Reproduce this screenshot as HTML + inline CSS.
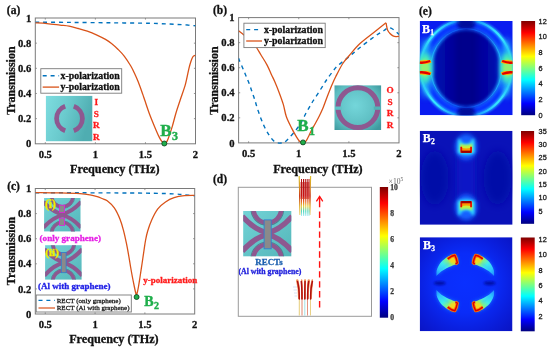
<!DOCTYPE html>
<html><head><meta charset="utf-8"><style>
html,body{margin:0;padding:0;background:#fff;}
svg{display:block;}
</style></head><body>
<svg width="550" height="349" viewBox="0 0 550 349">
<defs>
<clipPath id="clA"><rect x="35.3" y="17.0" width="160.2" height="127.80000000000001"/></clipPath>
<clipPath id="clB"><rect x="238.6" y="16.6" width="160.4" height="127.30000000000001"/></clipPath>
<clipPath id="clC"><rect x="35.3" y="187.5" width="159.39999999999998" height="127.5"/></clipPath>
<linearGradient id="tealA" x1="0" y1="0" x2="1" y2="0.3">
<stop offset="0" stop-color="#7edde0"/><stop offset="0.5" stop-color="#6acacd"/><stop offset="1" stop-color="#4fadb1"/></linearGradient>
<radialGradient id="tealB" cx="0.45" cy="0.45" r="0.7">
<stop offset="0" stop-color="#74d6da"/><stop offset="0.7" stop-color="#5cbcc0"/><stop offset="1" stop-color="#3e999e"/></radialGradient>
<linearGradient id="tealR" x1="0" y1="0" x2="1" y2="1">
<stop offset="0" stop-color="#72d3d6"/><stop offset="1" stop-color="#55b6ba"/></linearGradient>
<clipPath id="rclip"><rect x="0" y="0" width="48" height="45.4"/></clipPath>
<linearGradient id="jetV" x1="0" y1="1" x2="0" y2="0"><stop offset="0.0000" stop-color="#00007f"/><stop offset="0.0625" stop-color="#0000bf"/><stop offset="0.1250" stop-color="#0000ff"/><stop offset="0.1875" stop-color="#003fff"/><stop offset="0.2500" stop-color="#007fff"/><stop offset="0.3125" stop-color="#00bfff"/><stop offset="0.3750" stop-color="#00ffff"/><stop offset="0.4375" stop-color="#3fffbf"/><stop offset="0.5000" stop-color="#7fff7f"/><stop offset="0.5625" stop-color="#bfff3f"/><stop offset="0.6250" stop-color="#ffff00"/><stop offset="0.6875" stop-color="#ffbf00"/><stop offset="0.7500" stop-color="#ff7f00"/><stop offset="0.8125" stop-color="#ff3f00"/><stop offset="0.8750" stop-color="#ff0000"/><stop offset="0.9375" stop-color="#bf0000"/><stop offset="1.0000" stop-color="#7f0000"/></linearGradient>
<linearGradient id="fldT" x1="0" y1="176" x2="0" y2="217" gradientUnits="userSpaceOnUse">
<stop offset="0" stop-color="#e8c020"/><stop offset="0.15" stop-color="#c01010"/><stop offset="0.45" stop-color="#d01818"/>
<stop offset="0.65" stop-color="#f08020"/><stop offset="0.8" stop-color="#a0d060"/><stop offset="0.92" stop-color="#60e0e0"/><stop offset="1" stop-color="#c0f0ff"/></linearGradient>
<linearGradient id="fldB" x1="0" y1="279" x2="0" y2="316" gradientUnits="userSpaceOnUse">
<stop offset="0" stop-color="#b01010"/><stop offset="0.3" stop-color="#d02018"/><stop offset="0.45" stop-color="#e0a030"/>
<stop offset="0.62" stop-color="#60d0d0"/><stop offset="1" stop-color="#90dce0"/></linearGradient>
<linearGradient id="fldO" x1="0" y1="175" x2="0" y2="217" gradientUnits="userSpaceOnUse">
<stop offset="0" stop-color="#e0c830"/><stop offset="0.3" stop-color="#d89020"/><stop offset="0.5" stop-color="#c83010"/><stop offset="0.75" stop-color="#e0b030"/><stop offset="1" stop-color="#f0e0a0"/></linearGradient>
<linearGradient id="fldI" x1="0" y1="178" x2="0" y2="217" gradientUnits="userSpaceOnUse">
<stop offset="0" stop-color="#b01010"/><stop offset="0.45" stop-color="#c81010"/><stop offset="0.6" stop-color="#e86020"/><stop offset="0.72" stop-color="#e8d040"/><stop offset="0.85" stop-color="#50d8c0"/><stop offset="1" stop-color="#c8f0ff"/></linearGradient>
<filter id="bl05" x="-20%" y="-20%" width="140%" height="140%"><feGaussianBlur stdDeviation="0.5"/></filter>
<filter id="bl07" x="-30%" y="-30%" width="160%" height="160%"><feGaussianBlur stdDeviation="0.7"/></filter>
<filter id="bl15" x="-40%" y="-40%" width="180%" height="180%"><feGaussianBlur stdDeviation="1.5"/></filter>
<filter id="bl1" x="-30%" y="-30%" width="160%" height="160%"><feGaussianBlur stdDeviation="1"/></filter>
<filter id="bl2" x="-50%" y="-50%" width="200%" height="200%"><feGaussianBlur stdDeviation="2"/></filter>
<filter id="bl4" x="-50%" y="-50%" width="200%" height="200%"><feGaussianBlur stdDeviation="4"/></filter>
<filter id="bl3" x="-50%" y="-50%" width="200%" height="200%"><feGaussianBlur stdDeviation="3"/></filter>
<clipPath id="clE1"><rect x="419.7" y="21.0" width="93.0" height="94.2"/></clipPath>
<linearGradient id="e1in" x1="430.2" y1="0" x2="502.2" y2="0" gradientUnits="userSpaceOnUse">
<stop offset="0" stop-color="#000cb8"/><stop offset="0.3" stop-color="#00049c"/><stop offset="0.5" stop-color="#00007e"/><stop offset="0.7" stop-color="#00049c"/><stop offset="1" stop-color="#000cb8"/></linearGradient>
<linearGradient id="e1ro" x1="419.7" y1="0" x2="512.7" y2="0" gradientUnits="userSpaceOnUse">
<stop offset="0" stop-color="#40f4ff"/><stop offset="0.18" stop-color="#34e4ff"/><stop offset="0.34" stop-color="#20a8ff"/><stop offset="0.5" stop-color="#1880ff"/><stop offset="0.66" stop-color="#20a8ff"/><stop offset="0.82" stop-color="#34e4ff"/><stop offset="1" stop-color="#40f4ff"/></linearGradient>
<linearGradient id="e1ri" x1="419.7" y1="0" x2="512.7" y2="0" gradientUnits="userSpaceOnUse">
<stop offset="0" stop-color="#30e0ff"/><stop offset="0.15" stop-color="#24c4ff"/><stop offset="0.32" stop-color="#1470ff"/><stop offset="0.5" stop-color="#1060ff"/><stop offset="0.68" stop-color="#1470ff"/><stop offset="0.85" stop-color="#24c4ff"/><stop offset="1" stop-color="#30e0ff"/></linearGradient>
<clipPath id="clE2"><rect x="419.7" y="130.8" width="92.9" height="94.0"/></clipPath>
<radialGradient id="e3bg" cx="465.25" cy="283" r="66" gradientUnits="userSpaceOnUse">
<stop offset="0" stop-color="#0a30ff"/><stop offset="0.45" stop-color="#0a2cf8"/><stop offset="0.7" stop-color="#0a20e0"/><stop offset="1" stop-color="#0a14c4"/></radialGradient>
<clipPath id="clE3"><rect x="419.7" y="237.2" width="92.8" height="94.1"/></clipPath>
<linearGradient id="cr1" x1="437.25" y1="276.00" x2="456.25" y2="258.00" gradientUnits="userSpaceOnUse">
<stop offset="0" stop-color="#2088ff"/><stop offset="0.22" stop-color="#30c8ff"/><stop offset="0.48" stop-color="#40ecec"/><stop offset="0.72" stop-color="#8cf078"/><stop offset="0.88" stop-color="#e0e830"/><stop offset="1" stop-color="#ffb000"/></linearGradient>
<linearGradient id="cr2" x1="493.25" y1="276.00" x2="474.25" y2="258.00" gradientUnits="userSpaceOnUse">
<stop offset="0" stop-color="#2088ff"/><stop offset="0.22" stop-color="#30c8ff"/><stop offset="0.48" stop-color="#40ecec"/><stop offset="0.72" stop-color="#8cf078"/><stop offset="0.88" stop-color="#e0e830"/><stop offset="1" stop-color="#ffb000"/></linearGradient>
<linearGradient id="cr3" x1="437.25" y1="290.00" x2="456.25" y2="308.00" gradientUnits="userSpaceOnUse">
<stop offset="0" stop-color="#2088ff"/><stop offset="0.22" stop-color="#30c8ff"/><stop offset="0.48" stop-color="#40ecec"/><stop offset="0.72" stop-color="#8cf078"/><stop offset="0.88" stop-color="#e0e830"/><stop offset="1" stop-color="#ffb000"/></linearGradient>
<linearGradient id="cr4" x1="493.25" y1="290.00" x2="474.25" y2="308.00" gradientUnits="userSpaceOnUse">
<stop offset="0" stop-color="#2088ff"/><stop offset="0.22" stop-color="#30c8ff"/><stop offset="0.48" stop-color="#40ecec"/><stop offset="0.72" stop-color="#8cf078"/><stop offset="0.88" stop-color="#e0e830"/><stop offset="1" stop-color="#ffb000"/></linearGradient>
</defs>
<rect x="0" y="0" width="550" height="349" fill="#fff"/>
<line x1="45.31" y1="143.80" x2="45.31" y2="142.20" stroke="#7a7a7a" stroke-width="0.8"/>
<line x1="45.31" y1="18.00" x2="45.31" y2="19.60" stroke="#7a7a7a" stroke-width="0.8"/>
<line x1="95.37" y1="143.80" x2="95.37" y2="142.20" stroke="#7a7a7a" stroke-width="0.8"/>
<line x1="95.37" y1="18.00" x2="95.37" y2="19.60" stroke="#7a7a7a" stroke-width="0.8"/>
<line x1="145.44" y1="143.80" x2="145.44" y2="142.20" stroke="#7a7a7a" stroke-width="0.8"/>
<line x1="145.44" y1="18.00" x2="145.44" y2="19.60" stroke="#7a7a7a" stroke-width="0.8"/>
<line x1="35.30" y1="118.64" x2="36.90" y2="118.64" stroke="#7a7a7a" stroke-width="0.8"/>
<line x1="195.50" y1="118.64" x2="193.90" y2="118.64" stroke="#7a7a7a" stroke-width="0.8"/>
<line x1="35.30" y1="93.48" x2="36.90" y2="93.48" stroke="#7a7a7a" stroke-width="0.8"/>
<line x1="195.50" y1="93.48" x2="193.90" y2="93.48" stroke="#7a7a7a" stroke-width="0.8"/>
<line x1="35.30" y1="68.32" x2="36.90" y2="68.32" stroke="#7a7a7a" stroke-width="0.8"/>
<line x1="195.50" y1="68.32" x2="193.90" y2="68.32" stroke="#7a7a7a" stroke-width="0.8"/>
<line x1="35.30" y1="43.16" x2="36.90" y2="43.16" stroke="#7a7a7a" stroke-width="0.8"/>
<line x1="195.50" y1="43.16" x2="193.90" y2="43.16" stroke="#7a7a7a" stroke-width="0.8"/>
<rect x="35.30" y="18.00" width="160.20" height="125.80" fill="none" stroke="#7a7a7a" stroke-width="1"/>
<line x1="248.62" y1="142.90" x2="248.62" y2="141.30" stroke="#7a7a7a" stroke-width="0.8"/>
<line x1="248.62" y1="17.60" x2="248.62" y2="19.20" stroke="#7a7a7a" stroke-width="0.8"/>
<line x1="298.75" y1="142.90" x2="298.75" y2="141.30" stroke="#7a7a7a" stroke-width="0.8"/>
<line x1="298.75" y1="17.60" x2="298.75" y2="19.20" stroke="#7a7a7a" stroke-width="0.8"/>
<line x1="348.88" y1="142.90" x2="348.88" y2="141.30" stroke="#7a7a7a" stroke-width="0.8"/>
<line x1="348.88" y1="17.60" x2="348.88" y2="19.20" stroke="#7a7a7a" stroke-width="0.8"/>
<line x1="238.60" y1="117.84" x2="240.20" y2="117.84" stroke="#7a7a7a" stroke-width="0.8"/>
<line x1="399.00" y1="117.84" x2="397.40" y2="117.84" stroke="#7a7a7a" stroke-width="0.8"/>
<line x1="238.60" y1="92.78" x2="240.20" y2="92.78" stroke="#7a7a7a" stroke-width="0.8"/>
<line x1="399.00" y1="92.78" x2="397.40" y2="92.78" stroke="#7a7a7a" stroke-width="0.8"/>
<line x1="238.60" y1="67.72" x2="240.20" y2="67.72" stroke="#7a7a7a" stroke-width="0.8"/>
<line x1="399.00" y1="67.72" x2="397.40" y2="67.72" stroke="#7a7a7a" stroke-width="0.8"/>
<line x1="238.60" y1="42.66" x2="240.20" y2="42.66" stroke="#7a7a7a" stroke-width="0.8"/>
<line x1="399.00" y1="42.66" x2="397.40" y2="42.66" stroke="#7a7a7a" stroke-width="0.8"/>
<rect x="238.60" y="17.60" width="160.40" height="125.30" fill="none" stroke="#7a7a7a" stroke-width="1"/>
<line x1="45.26" y1="314.00" x2="45.26" y2="312.40" stroke="#7a7a7a" stroke-width="0.8"/>
<line x1="45.26" y1="188.50" x2="45.26" y2="190.10" stroke="#7a7a7a" stroke-width="0.8"/>
<line x1="95.07" y1="314.00" x2="95.07" y2="312.40" stroke="#7a7a7a" stroke-width="0.8"/>
<line x1="95.07" y1="188.50" x2="95.07" y2="190.10" stroke="#7a7a7a" stroke-width="0.8"/>
<line x1="144.89" y1="314.00" x2="144.89" y2="312.40" stroke="#7a7a7a" stroke-width="0.8"/>
<line x1="144.89" y1="188.50" x2="144.89" y2="190.10" stroke="#7a7a7a" stroke-width="0.8"/>
<line x1="35.30" y1="288.90" x2="36.90" y2="288.90" stroke="#7a7a7a" stroke-width="0.8"/>
<line x1="194.70" y1="288.90" x2="193.10" y2="288.90" stroke="#7a7a7a" stroke-width="0.8"/>
<line x1="35.30" y1="263.80" x2="36.90" y2="263.80" stroke="#7a7a7a" stroke-width="0.8"/>
<line x1="194.70" y1="263.80" x2="193.10" y2="263.80" stroke="#7a7a7a" stroke-width="0.8"/>
<line x1="35.30" y1="238.70" x2="36.90" y2="238.70" stroke="#7a7a7a" stroke-width="0.8"/>
<line x1="194.70" y1="238.70" x2="193.10" y2="238.70" stroke="#7a7a7a" stroke-width="0.8"/>
<line x1="35.30" y1="213.60" x2="36.90" y2="213.60" stroke="#7a7a7a" stroke-width="0.8"/>
<line x1="194.70" y1="213.60" x2="193.10" y2="213.60" stroke="#7a7a7a" stroke-width="0.8"/>
<rect x="35.30" y="188.50" width="159.40" height="125.50" fill="none" stroke="#7a7a7a" stroke-width="1"/>
<path d="M35.30,22.20 C41.08,22.23 57.55,22.30 70.00,22.40 C82.45,22.50 96.67,22.65 110.00,22.80 C123.33,22.95 139.17,23.05 150.00,23.30 C160.83,23.55 168.67,24.00 175.00,24.30 C181.33,24.60 184.58,24.85 188.00,25.10 C191.42,25.35 194.25,25.68 195.50,25.80" fill="none" stroke="#0072BD" stroke-width="1.4" stroke-dasharray="4,3.9" stroke-linejoin="round" clip-path="url(#clA)"/>
<path d="M35.30,22.80 C37.25,22.93 42.88,23.22 47.00,23.60 C51.12,23.98 56.32,24.67 60.00,25.10 C63.68,25.53 66.07,25.63 69.10,26.20 C72.13,26.77 75.17,27.67 78.20,28.50 C81.23,29.33 84.27,30.15 87.30,31.20 C90.33,32.25 93.37,33.43 96.40,34.80 C99.43,36.17 102.98,37.97 105.50,39.40 C108.02,40.83 109.43,41.77 111.50,43.40 C113.57,45.03 115.75,47.05 117.90,49.20 C120.05,51.35 122.25,53.50 124.40,56.30 C126.55,59.10 129.08,63.10 130.80,66.00 C132.52,68.90 133.47,71.07 134.70,73.70 C135.93,76.33 136.85,78.35 138.20,81.80 C139.55,85.25 141.72,91.37 142.80,94.40 C143.88,97.43 143.63,96.87 144.70,100.00 C145.77,103.13 147.57,108.80 149.20,113.20 C150.83,117.60 152.85,122.45 154.50,126.40 C156.15,130.35 157.88,134.40 159.10,136.90 C160.32,139.40 160.93,140.33 161.80,141.40 C162.67,142.47 163.50,143.20 164.30,143.30 C165.10,143.40 165.88,142.97 166.60,142.00 C167.32,141.03 167.65,140.10 168.60,137.50 C169.55,134.90 171.08,130.45 172.30,126.40 C173.52,122.35 174.58,117.60 175.90,113.20 C177.22,108.80 178.62,104.80 180.20,100.00 C181.78,95.20 183.95,89.63 185.40,84.40 C186.85,79.17 187.97,72.47 188.90,68.60 C189.83,64.73 190.38,63.08 191.00,61.20 C191.62,59.32 192.10,58.22 192.60,57.30 C193.10,56.38 193.52,56.05 194.00,55.70 C194.48,55.35 195.25,55.28 195.50,55.20" fill="none" stroke="#D95319" stroke-width="1.3" stroke-linejoin="round" clip-path="url(#clA)"/>
<path d="M238.60,58.20 C238.72,58.53 238.53,58.37 239.30,60.20 C240.07,62.03 242.02,66.42 243.20,69.20 C244.38,71.98 245.33,74.32 246.40,76.90 C247.47,79.48 248.63,82.12 249.60,84.70 C250.57,87.28 251.33,89.88 252.20,92.40 C253.07,94.92 253.97,97.22 254.80,99.80 C255.63,102.38 256.22,104.88 257.20,107.90 C258.18,110.92 259.52,114.80 260.70,117.90 C261.88,121.00 262.98,123.75 264.30,126.50 C265.62,129.25 267.05,132.02 268.60,134.40 C270.15,136.78 272.03,139.38 273.60,140.80 C275.17,142.22 276.68,142.53 278.00,142.90 C279.32,143.27 280.43,143.10 281.50,143.00 C282.57,142.90 283.22,143.07 284.40,142.30 C285.58,141.53 286.85,140.22 288.60,138.40 C290.35,136.58 293.00,133.72 294.90,131.40 C296.80,129.08 298.60,126.63 300.00,124.50 C301.40,122.37 302.28,120.55 303.30,118.60 C304.32,116.65 305.05,114.77 306.10,112.80 C307.15,110.83 308.45,108.77 309.60,106.80 C310.75,104.83 311.67,103.10 313.00,101.00 C314.33,98.90 315.88,96.87 317.60,94.20 C319.32,91.53 321.68,87.57 323.30,85.00 C324.92,82.43 325.85,80.88 327.30,78.80 C328.75,76.72 330.28,74.67 332.00,72.50 C333.72,70.33 334.80,68.40 337.60,65.80 C340.40,63.20 345.07,59.95 348.80,56.90 C352.53,53.85 355.47,51.07 360.00,47.50 C364.53,43.93 372.00,38.33 376.00,35.50 C380.00,32.67 382.00,31.82 384.00,30.50 C386.00,29.18 386.83,27.98 388.00,27.60 C389.17,27.22 390.00,27.80 391.00,28.20 C392.00,28.60 393.00,29.28 394.00,30.00 C395.00,30.72 396.17,31.75 397.00,32.50 C397.83,33.25 398.67,34.17 399.00,34.50" fill="none" stroke="#0072BD" stroke-width="1.4" stroke-dasharray="4,3.9" stroke-linejoin="round" clip-path="url(#clB)"/>
<path d="M238.60,30.80 C239.40,31.42 241.67,33.00 243.40,34.50 C245.13,36.00 247.40,38.30 249.00,39.80 C250.60,41.30 251.75,42.22 253.00,43.50 C254.25,44.78 255.17,45.58 256.50,47.50 C257.83,49.42 259.23,52.07 261.00,55.00 C262.77,57.93 265.33,61.77 267.10,65.10 C268.87,68.43 270.33,72.27 271.60,75.00 C272.87,77.73 273.42,78.52 274.70,81.50 C275.98,84.48 277.87,89.08 279.30,92.90 C280.73,96.72 282.13,100.47 283.30,104.40 C284.47,108.33 284.93,112.58 286.30,116.50 C287.67,120.42 289.78,124.47 291.50,127.90 C293.22,131.33 295.27,134.88 296.60,137.10 C297.93,139.32 298.48,140.32 299.50,141.20 C300.52,142.08 301.65,142.37 302.70,142.40 C303.75,142.43 304.90,142.25 305.80,141.40 C306.70,140.55 307.13,139.20 308.10,137.30 C309.07,135.40 310.40,132.30 311.60,130.00 C312.80,127.70 314.02,125.83 315.30,123.50 C316.58,121.17 317.97,118.72 319.30,116.00 C320.63,113.28 321.97,110.45 323.30,107.20 C324.63,103.95 325.87,100.20 327.30,96.50 C328.73,92.80 330.48,88.33 331.90,85.00 C333.32,81.67 333.98,80.08 335.80,76.50 C337.62,72.92 340.55,67.00 342.80,63.50 C345.05,60.00 346.43,58.82 349.30,55.50 C352.17,52.18 355.55,47.72 360.00,43.60 C364.45,39.48 371.67,34.27 376.00,30.80 C380.33,27.33 384.33,24.13 386.00,22.80" fill="none" stroke="#D95319" stroke-width="1.3" stroke-linejoin="round" clip-path="url(#clB)"/>
<path d="M386.00,22.80 C386.13,23.50 386.50,25.72 386.80,27.00 C387.10,28.28 387.27,29.42 387.80,30.50 C388.33,31.58 389.13,32.62 390.00,33.50 C390.87,34.38 392.00,35.28 393.00,35.80 C394.00,36.32 395.00,36.50 396.00,36.60 C397.00,36.70 398.50,36.43 399.00,36.40" fill="none" stroke="#D95319" stroke-width="1.3" stroke-linejoin="round" clip-path="url(#clB)"/>
<path d="M35.30,192.70 C42.75,192.72 64.22,192.75 80.00,192.80 C95.78,192.85 116.67,192.90 130.00,193.00 C143.33,193.10 152.50,193.23 160.00,193.40 C167.50,193.57 170.83,193.77 175.00,194.00 C179.17,194.23 181.72,194.50 185.00,194.80 C188.28,195.10 193.08,195.63 194.70,195.80" fill="none" stroke="#0072BD" stroke-width="1.4" stroke-dasharray="4,3.9" stroke-linejoin="round" clip-path="url(#clC)"/>
<path d="M35.30,192.60 C39.42,192.65 52.55,192.73 60.00,192.90 C67.45,193.07 75.00,193.28 80.00,193.60 C85.00,193.92 87.13,194.30 90.00,194.80 C92.87,195.30 95.20,195.98 97.20,196.60 C99.20,197.22 100.33,197.80 102.00,198.50 C103.67,199.20 105.15,199.23 107.20,200.80 C109.25,202.37 112.15,204.80 114.30,207.90 C116.45,211.00 118.55,215.58 120.10,219.40 C121.65,223.22 122.53,226.75 123.60,230.80 C124.67,234.85 125.67,239.67 126.50,243.70 C127.33,247.73 127.92,251.12 128.60,255.00 C129.28,258.88 129.98,263.42 130.60,267.00 C131.22,270.58 131.67,273.17 132.30,276.50 C132.93,279.83 133.85,284.33 134.40,287.00 C134.95,289.67 135.27,291.17 135.60,292.50 C135.93,293.83 136.12,295.00 136.40,295.00 C136.68,295.00 136.93,294.00 137.30,292.50 C137.67,291.00 138.13,288.67 138.60,286.00 C139.07,283.33 139.53,280.17 140.10,276.50 C140.67,272.83 141.37,268.25 142.00,264.00 C142.63,259.75 143.30,255.00 143.90,251.00 C144.50,247.00 144.97,243.33 145.60,240.00 C146.23,236.67 146.68,234.33 147.70,231.00 C148.72,227.67 150.02,223.68 151.70,220.00 C153.38,216.32 155.50,211.90 157.80,208.90 C160.10,205.90 162.78,203.87 165.50,202.00 C168.22,200.13 170.95,198.75 174.10,197.70 C177.25,196.65 180.97,196.08 184.40,195.70 C187.83,195.32 192.98,195.45 194.70,195.40" fill="none" stroke="#D95319" stroke-width="1.3" stroke-linejoin="round" clip-path="url(#clC)"/>
<text x="45.31" y="157.60" font-family="'Liberation Serif', 'Times New Roman', serif" font-size="10.6" font-weight="bold" fill="#111" stroke="#111" stroke-width="0.3" text-anchor="middle" >0.5</text>
<text x="95.37" y="157.60" font-family="'Liberation Serif', 'Times New Roman', serif" font-size="10.6" font-weight="bold" fill="#111" stroke="#111" stroke-width="0.3" text-anchor="middle" >1</text>
<text x="145.44" y="157.60" font-family="'Liberation Serif', 'Times New Roman', serif" font-size="10.6" font-weight="bold" fill="#111" stroke="#111" stroke-width="0.3" text-anchor="middle" >1.5</text>
<text x="195.50" y="157.60" font-family="'Liberation Serif', 'Times New Roman', serif" font-size="10.6" font-weight="bold" fill="#111" stroke="#111" stroke-width="0.3" text-anchor="middle" >2</text>
<text x="31.30" y="147.40" font-family="'Liberation Serif', 'Times New Roman', serif" font-size="10.6" font-weight="bold" fill="#111" stroke="#111" stroke-width="0.3" text-anchor="end" >0</text>
<text x="31.30" y="122.24" font-family="'Liberation Serif', 'Times New Roman', serif" font-size="10.6" font-weight="bold" fill="#111" stroke="#111" stroke-width="0.3" text-anchor="end" >0.2</text>
<text x="31.30" y="97.08" font-family="'Liberation Serif', 'Times New Roman', serif" font-size="10.6" font-weight="bold" fill="#111" stroke="#111" stroke-width="0.3" text-anchor="end" >0.4</text>
<text x="31.30" y="71.92" font-family="'Liberation Serif', 'Times New Roman', serif" font-size="10.6" font-weight="bold" fill="#111" stroke="#111" stroke-width="0.3" text-anchor="end" >0.6</text>
<text x="31.30" y="46.76" font-family="'Liberation Serif', 'Times New Roman', serif" font-size="10.6" font-weight="bold" fill="#111" stroke="#111" stroke-width="0.3" text-anchor="end" >0.8</text>
<text x="31.30" y="21.60" font-family="'Liberation Serif', 'Times New Roman', serif" font-size="10.6" font-weight="bold" fill="#111" stroke="#111" stroke-width="0.3" text-anchor="end" >1</text>
<text x="248.62" y="156.70" font-family="'Liberation Serif', 'Times New Roman', serif" font-size="10.6" font-weight="bold" fill="#111" stroke="#111" stroke-width="0.3" text-anchor="middle" >0.5</text>
<text x="298.75" y="156.70" font-family="'Liberation Serif', 'Times New Roman', serif" font-size="10.6" font-weight="bold" fill="#111" stroke="#111" stroke-width="0.3" text-anchor="middle" >1</text>
<text x="348.88" y="156.70" font-family="'Liberation Serif', 'Times New Roman', serif" font-size="10.6" font-weight="bold" fill="#111" stroke="#111" stroke-width="0.3" text-anchor="middle" >1.5</text>
<text x="399.00" y="156.70" font-family="'Liberation Serif', 'Times New Roman', serif" font-size="10.6" font-weight="bold" fill="#111" stroke="#111" stroke-width="0.3" text-anchor="middle" >2</text>
<text x="234.60" y="146.50" font-family="'Liberation Serif', 'Times New Roman', serif" font-size="10.6" font-weight="bold" fill="#111" stroke="#111" stroke-width="0.3" text-anchor="end" >0</text>
<text x="234.60" y="121.44" font-family="'Liberation Serif', 'Times New Roman', serif" font-size="10.6" font-weight="bold" fill="#111" stroke="#111" stroke-width="0.3" text-anchor="end" >0.2</text>
<text x="234.60" y="96.38" font-family="'Liberation Serif', 'Times New Roman', serif" font-size="10.6" font-weight="bold" fill="#111" stroke="#111" stroke-width="0.3" text-anchor="end" >0.4</text>
<text x="234.60" y="71.32" font-family="'Liberation Serif', 'Times New Roman', serif" font-size="10.6" font-weight="bold" fill="#111" stroke="#111" stroke-width="0.3" text-anchor="end" >0.6</text>
<text x="234.60" y="46.26" font-family="'Liberation Serif', 'Times New Roman', serif" font-size="10.6" font-weight="bold" fill="#111" stroke="#111" stroke-width="0.3" text-anchor="end" >0.8</text>
<text x="234.60" y="21.20" font-family="'Liberation Serif', 'Times New Roman', serif" font-size="10.6" font-weight="bold" fill="#111" stroke="#111" stroke-width="0.3" text-anchor="end" >1</text>
<text x="45.26" y="327.80" font-family="'Liberation Serif', 'Times New Roman', serif" font-size="10.6" font-weight="bold" fill="#111" stroke="#111" stroke-width="0.3" text-anchor="middle" >0.5</text>
<text x="95.07" y="327.80" font-family="'Liberation Serif', 'Times New Roman', serif" font-size="10.6" font-weight="bold" fill="#111" stroke="#111" stroke-width="0.3" text-anchor="middle" >1</text>
<text x="144.89" y="327.80" font-family="'Liberation Serif', 'Times New Roman', serif" font-size="10.6" font-weight="bold" fill="#111" stroke="#111" stroke-width="0.3" text-anchor="middle" >1.5</text>
<text x="194.70" y="327.80" font-family="'Liberation Serif', 'Times New Roman', serif" font-size="10.6" font-weight="bold" fill="#111" stroke="#111" stroke-width="0.3" text-anchor="middle" >2</text>
<text x="31.30" y="317.60" font-family="'Liberation Serif', 'Times New Roman', serif" font-size="10.6" font-weight="bold" fill="#111" stroke="#111" stroke-width="0.3" text-anchor="end" >0</text>
<text x="31.30" y="292.50" font-family="'Liberation Serif', 'Times New Roman', serif" font-size="10.6" font-weight="bold" fill="#111" stroke="#111" stroke-width="0.3" text-anchor="end" >0.2</text>
<text x="31.30" y="267.40" font-family="'Liberation Serif', 'Times New Roman', serif" font-size="10.6" font-weight="bold" fill="#111" stroke="#111" stroke-width="0.3" text-anchor="end" >0.4</text>
<text x="31.30" y="242.30" font-family="'Liberation Serif', 'Times New Roman', serif" font-size="10.6" font-weight="bold" fill="#111" stroke="#111" stroke-width="0.3" text-anchor="end" >0.6</text>
<text x="31.30" y="217.20" font-family="'Liberation Serif', 'Times New Roman', serif" font-size="10.6" font-weight="bold" fill="#111" stroke="#111" stroke-width="0.3" text-anchor="end" >0.8</text>
<text x="31.30" y="192.10" font-family="'Liberation Serif', 'Times New Roman', serif" font-size="10.6" font-weight="bold" fill="#111" stroke="#111" stroke-width="0.3" text-anchor="end" >1</text>
<text x="0" y="0" transform="translate(14.80,80.60) rotate(-90)" font-family="'Liberation Serif', 'Times New Roman', serif" font-size="12" font-weight="bold" fill="#111" stroke="#111" stroke-width="0.3" text-anchor="middle">Transmission</text>
<text x="0" y="0" transform="translate(217.50,80.60) rotate(-90)" font-family="'Liberation Serif', 'Times New Roman', serif" font-size="12" font-weight="bold" fill="#111" stroke="#111" stroke-width="0.3" text-anchor="middle">Transmission</text>
<text x="0" y="0" transform="translate(14.80,251.00) rotate(-90)" font-family="'Liberation Serif', 'Times New Roman', serif" font-size="12" font-weight="bold" fill="#111" stroke="#111" stroke-width="0.3" text-anchor="middle">Transmission</text>
<text x="114.80" y="172.60" font-family="'Liberation Serif', 'Times New Roman', serif" font-size="12.2" font-weight="bold" fill="#111" stroke="#111" stroke-width="0.3" text-anchor="middle" >Frequency (THz)</text>
<text x="317.90" y="172.60" font-family="'Liberation Serif', 'Times New Roman', serif" font-size="12.2" font-weight="bold" fill="#111" stroke="#111" stroke-width="0.3" text-anchor="middle" >Frequency (THz)</text>
<text x="113.90" y="343.40" font-family="'Liberation Serif', 'Times New Roman', serif" font-size="12.2" font-weight="bold" fill="#111" stroke="#111" stroke-width="0.3" text-anchor="middle" >Frequency (THz)</text>
<text x="6.80" y="14.20" font-family="'Liberation Serif', 'Times New Roman', serif" font-size="11.5" font-weight="bold" fill="#111" stroke="#111" stroke-width="0.3" text-anchor="start" >(a)</text>
<text x="213.00" y="14.20" font-family="'Liberation Serif', 'Times New Roman', serif" font-size="11.5" font-weight="bold" fill="#111" stroke="#111" stroke-width="0.3" text-anchor="start" >(b)</text>
<text x="7.20" y="190.00" font-family="'Liberation Serif', 'Times New Roman', serif" font-size="11.5" font-weight="bold" fill="#111" stroke="#111" stroke-width="0.3" text-anchor="start" >(c)</text>
<text x="213.00" y="183.30" font-family="'Liberation Serif', 'Times New Roman', serif" font-size="11.5" font-weight="bold" fill="#111" stroke="#111" stroke-width="0.3" text-anchor="start" >(d)</text>
<text x="419.00" y="14.50" font-family="'Liberation Serif', 'Times New Roman', serif" font-size="11.5" font-weight="bold" fill="#111" stroke="#111" stroke-width="0.3" text-anchor="start" >(e)</text>
<rect x="40.80" y="68.70" width="80.90" height="24.50" fill="#fff" stroke="#7a7a7a" stroke-width="0.9"/>
<line x1="42.7" y1="75.8" x2="59.1" y2="75.8" stroke="#0072BD" stroke-width="1.4" stroke-dasharray="4,3.9"/>
<line x1="42.7" y1="87.1" x2="59.1" y2="87.1" stroke="#D95319" stroke-width="1.3"/>
<text x="60.60" y="79.30" font-family="'Liberation Serif', 'Times New Roman', serif" font-size="9.85" font-weight="bold" fill="#111" stroke="#111" stroke-width="0.3" text-anchor="start" >x-polarization</text>
<text x="60.60" y="89.60" font-family="'Liberation Serif', 'Times New Roman', serif" font-size="9.85" font-weight="bold" fill="#111" stroke="#111" stroke-width="0.3" text-anchor="start" >y-polarization</text>
<rect x="243.90" y="23.20" width="81.30" height="24.40" fill="#fff" stroke="#7a7a7a" stroke-width="0.9"/>
<line x1="246.2" y1="29.6" x2="262.0" y2="29.6" stroke="#0072BD" stroke-width="1.4" stroke-dasharray="4,3.9"/>
<line x1="246.2" y1="41.0" x2="262.0" y2="41.0" stroke="#D95319" stroke-width="1.3"/>
<text x="263.90" y="33.20" font-family="'Liberation Serif', 'Times New Roman', serif" font-size="9.85" font-weight="bold" fill="#111" stroke="#111" stroke-width="0.3" text-anchor="start" >x-polarization</text>
<text x="263.90" y="44.00" font-family="'Liberation Serif', 'Times New Roman', serif" font-size="9.85" font-weight="bold" fill="#111" stroke="#111" stroke-width="0.3" text-anchor="start" >y-polarization</text>
<rect x="36.20" y="295.00" width="95.10" height="17.00" fill="#fff" stroke="#7a7a7a" stroke-width="0.9"/>
<line x1="38.5" y1="300.3" x2="55.0" y2="300.3" stroke="#0072BD" stroke-width="1.3" stroke-dasharray="4,3.9"/>
<line x1="38.5" y1="308.0" x2="55.0" y2="308.0" stroke="#D95319" stroke-width="1.2"/>
<text x="56.70" y="302.70" font-family="'Liberation Serif', 'Times New Roman', serif" font-size="7.0" font-weight="normal" fill="#222" stroke="#222" stroke-width="0.3" text-anchor="start" >RECT (only graphene)</text>
<text x="56.70" y="310.40" font-family="'Liberation Serif', 'Times New Roman', serif" font-size="7.0" font-weight="normal" fill="#222" stroke="#222" stroke-width="0.3" text-anchor="start" >RECT (Al with graphene)</text>
<circle cx="164.30" cy="143.50" r="2.5" fill="#1fae4b" stroke="#0b3d1a" stroke-width="0.8"/>
<circle cx="303.00" cy="142.40" r="2.5" fill="#1fae4b" stroke="#0b3d1a" stroke-width="0.8"/>
<circle cx="136.60" cy="297.00" r="2.5" fill="#1fae4b" stroke="#0b3d1a" stroke-width="0.8"/>
<text x="160.20" y="136.40" font-family="'Liberation Serif', 'Times New Roman', serif" font-size="17" font-weight="bold" fill="#1fae4b" stroke="#1fae4b" stroke-width="0.4">B<tspan font-size="12" dx="0.5" dy="4">3</tspan></text>
<text x="297.20" y="130.80" font-family="'Liberation Serif', 'Times New Roman', serif" font-size="17" font-weight="bold" fill="#1fae4b" stroke="#1fae4b" stroke-width="0.4">B<tspan font-size="12" dx="0.5" dy="4">1</tspan></text>
<text x="144.30" y="306.00" font-family="'Liberation Serif', 'Times New Roman', serif" font-size="14" font-weight="bold" fill="#1fae4b" stroke="#1fae4b" stroke-width="0.4">B<tspan font-size="10" dx="0.3" dy="3.2">2</tspan></text>
<text x="143.20" y="283.40" font-family="'Liberation Serif', 'Times New Roman', serif" font-size="9.0" font-weight="bold" fill="#ff1a1a" stroke="#ff1a1a" stroke-width="0.3" text-anchor="start" >y-polarization</text>
<text x="96.30" y="105.00" font-family="'Liberation Serif', 'Times New Roman', serif" font-size="9.2" font-weight="bold" fill="#ff1a1a" stroke="#ff1a1a" stroke-width="0.3" text-anchor="middle" >I</text>
<text x="96.30" y="116.63" font-family="'Liberation Serif', 'Times New Roman', serif" font-size="9.2" font-weight="bold" fill="#ff1a1a" stroke="#ff1a1a" stroke-width="0.3" text-anchor="middle" >S</text>
<text x="96.30" y="128.26" font-family="'Liberation Serif', 'Times New Roman', serif" font-size="9.2" font-weight="bold" fill="#ff1a1a" stroke="#ff1a1a" stroke-width="0.3" text-anchor="middle" >R</text>
<text x="96.30" y="139.89" font-family="'Liberation Serif', 'Times New Roman', serif" font-size="9.2" font-weight="bold" fill="#ff1a1a" stroke="#ff1a1a" stroke-width="0.3" text-anchor="middle" >R</text>
<text x="390.00" y="92.90" font-family="'Liberation Serif', 'Times New Roman', serif" font-size="9.2" font-weight="bold" fill="#ff1a1a" stroke="#ff1a1a" stroke-width="0.3" text-anchor="middle" >O</text>
<text x="390.00" y="104.57" font-family="'Liberation Serif', 'Times New Roman', serif" font-size="9.2" font-weight="bold" fill="#ff1a1a" stroke="#ff1a1a" stroke-width="0.3" text-anchor="middle" >S</text>
<text x="390.00" y="116.24" font-family="'Liberation Serif', 'Times New Roman', serif" font-size="9.2" font-weight="bold" fill="#ff1a1a" stroke="#ff1a1a" stroke-width="0.3" text-anchor="middle" >R</text>
<text x="390.00" y="127.91" font-family="'Liberation Serif', 'Times New Roman', serif" font-size="9.2" font-weight="bold" fill="#ff1a1a" stroke="#ff1a1a" stroke-width="0.3" text-anchor="middle" >R</text>
<rect x="45.9" y="95.9" width="46.4" height="45.3" fill="url(#tealA)"/>
<path d="M65.19,106.34 A12.9,12.9 0 0 0 65.19,130.66" fill="none" stroke="#8e5890" stroke-width="4.8"/>
<path d="M73.81,106.34 A12.9,12.9 0 0 1 73.81,130.66" fill="none" stroke="#8e5890" stroke-width="4.8"/>
<rect x="334.5" y="85.4" width="46.6" height="44.6" fill="url(#tealB)"/>
<circle cx="357.9" cy="107.7" r="19.9" fill="none" stroke="#8e5890" stroke-width="5"/>
<rect x="335" y="106.5" width="7" height="3.3" fill="#5fc2c6"/>
<rect x="373.8" y="106.5" width="7" height="3.3" fill="#52b2b6"/>
<g transform="translate(243.2,211.0) scale(1.0021,0.9978)"><rect x="0" y="0" width="48" height="45.4" fill="url(#tealR)"/><g clip-path="url(#rclip)"><path d="M7.80,-2 A16.3,16.3 0 0 0 40.40,-2" fill="none" stroke="#4a8890" stroke-width="1.1"/><path d="M7.80,47.4 A16.3,16.3 0 0 1 40.40,47.4" fill="none" stroke="#4a8890" stroke-width="1.1"/><path d="M10.30,-2.00 A13.8,13.8 0 0 0 37.90,-2.00" fill="none" stroke="#8e5890" stroke-width="4.5"/><path d="M10.30,47.40 A13.8,13.8 0 0 1 37.90,47.40" fill="none" stroke="#8e5890" stroke-width="4.5"/><path d="M-1,5.2 Q12,19.5 24.1,21.8 Q36.2,19.5 49,5.2" fill="none" stroke="#8e5890" stroke-width="5.4"/><path d="M-1,40.2 Q12,25.9 24.1,23.6 Q36.2,25.9 49,40.2" fill="none" stroke="#8e5890" stroke-width="5.4"/></g></g>
<rect x="264.1" y="219.9" width="7.1" height="28.9" fill="#8a8a8a" stroke="#2f7fd0" stroke-width="0.9"/>
<g transform="translate(44.1,198.0) scale(0.7583,0.7357)"><rect x="0" y="0" width="48" height="45.4" fill="url(#tealR)"/><g clip-path="url(#rclip)"><path d="M7.80,-2 A16.3,16.3 0 0 0 40.40,-2" fill="none" stroke="#4a8890" stroke-width="1.1"/><path d="M7.80,47.4 A16.3,16.3 0 0 1 40.40,47.4" fill="none" stroke="#4a8890" stroke-width="1.1"/><path d="M10.30,-2.00 A13.8,13.8 0 0 0 37.90,-2.00" fill="none" stroke="#8e5890" stroke-width="4.5"/><path d="M10.30,47.40 A13.8,13.8 0 0 1 37.90,47.40" fill="none" stroke="#8e5890" stroke-width="4.5"/><path d="M-1,5.2 Q12,19.5 24.1,21.8 Q36.2,19.5 49,5.2" fill="none" stroke="#8e5890" stroke-width="5.4"/><path d="M-1,40.2 Q12,25.9 24.1,23.6 Q36.2,25.9 49,40.2" fill="none" stroke="#8e5890" stroke-width="5.4"/></g></g>
<rect x="59.6" y="205.2" width="5.0" height="7.3" fill="#8a8a8a" stroke="#e020e0" stroke-width="0.8"/>
<rect x="59.6" y="218.2" width="5.0" height="7.4" fill="#8a8a8a" stroke="#e020e0" stroke-width="0.8"/>
<g transform="translate(45.1,245.2) scale(0.7604,0.7577)"><rect x="0" y="0" width="48" height="45.4" fill="url(#tealR)"/><g clip-path="url(#rclip)"><path d="M7.80,-2 A16.3,16.3 0 0 0 40.40,-2" fill="none" stroke="#4a8890" stroke-width="1.1"/><path d="M7.80,47.4 A16.3,16.3 0 0 1 40.40,47.4" fill="none" stroke="#4a8890" stroke-width="1.1"/><path d="M10.30,-2.00 A13.8,13.8 0 0 0 37.90,-2.00" fill="none" stroke="#8e5890" stroke-width="4.5"/><path d="M10.30,47.40 A13.8,13.8 0 0 1 37.90,47.40" fill="none" stroke="#8e5890" stroke-width="4.5"/><path d="M-1,5.2 Q12,19.5 24.1,21.8 Q36.2,19.5 49,5.2" fill="none" stroke="#8e5890" stroke-width="5.4"/><path d="M-1,40.2 Q12,25.9 24.1,23.6 Q36.2,25.9 49,40.2" fill="none" stroke="#8e5890" stroke-width="5.4"/></g></g>
<rect x="61.3" y="252.4" width="4.8" height="20.3" fill="#8a8a8a" stroke="#2f7fd0" stroke-width="0.8"/>
<text x="45.00" y="208.40" font-family="'Liberation Serif', 'Times New Roman', serif" font-size="11.5" font-weight="bold" fill="#f0f000" stroke="#f0f000" stroke-width="0.3" text-anchor="start" >(i)</text>
<text x="45.20" y="256.30" font-family="'Liberation Serif', 'Times New Roman', serif" font-size="11.2" font-weight="bold" fill="#f0f000" stroke="#f0f000" stroke-width="0.3" text-anchor="start" >(ii)</text>
<text x="39.60" y="241.00" font-family="'Liberation Serif', 'Times New Roman', serif" font-size="9.1" font-weight="bold" fill="#e61ee6" stroke="#e61ee6" stroke-width="0.3" text-anchor="start" >(only graphene)</text>
<text x="38.00" y="289.20" font-family="'Liberation Serif', 'Times New Roman', serif" font-size="9.0" font-weight="bold" fill="#2323e6" stroke="#2323e6" stroke-width="0.3" text-anchor="start" >(Al with graphene)</text>
<text x="269.00" y="264.50" font-family="'Liberation Serif', 'Times New Roman', serif" font-size="8.9" font-weight="bold" fill="#1f62b0" stroke="#1f62b0" stroke-width="0.3" text-anchor="middle" >RECTs</text>
<text x="269.90" y="274.30" font-family="'Liberation Serif', 'Times New Roman', serif" font-size="7.8" font-weight="bold" fill="#2424dd" stroke="#2424dd" stroke-width="0.3" text-anchor="middle" >(Al with graphene)</text>
<rect x="238.3" y="187.3" width="133.2" height="129.0" fill="none" stroke="#9a9a9a" stroke-width="1"/>
<rect x="379.8" y="187.0" width="8.3" height="130.7" fill="url(#jetV)"/>
<text x="390.20" y="320.30" font-family="'Liberation Serif', 'Times New Roman', serif" font-size="7.6" font-weight="bold" fill="#383838" stroke="#383838" stroke-width="0.25" text-anchor="start" >0</text>
<text x="390.20" y="294.16" font-family="'Liberation Serif', 'Times New Roman', serif" font-size="7.6" font-weight="bold" fill="#383838" stroke="#383838" stroke-width="0.25" text-anchor="start" >2</text>
<text x="390.20" y="268.02" font-family="'Liberation Serif', 'Times New Roman', serif" font-size="7.6" font-weight="bold" fill="#383838" stroke="#383838" stroke-width="0.25" text-anchor="start" >4</text>
<text x="390.20" y="241.88" font-family="'Liberation Serif', 'Times New Roman', serif" font-size="7.6" font-weight="bold" fill="#383838" stroke="#383838" stroke-width="0.25" text-anchor="start" >6</text>
<text x="390.20" y="215.74" font-family="'Liberation Serif', 'Times New Roman', serif" font-size="7.6" font-weight="bold" fill="#383838" stroke="#383838" stroke-width="0.25" text-anchor="start" >8</text>
<text x="390.20" y="189.60" font-family="'Liberation Serif', 'Times New Roman', serif" font-size="7.6" font-weight="bold" fill="#383838" stroke="#383838" stroke-width="0.25" text-anchor="start" >10</text>
<text x="388.6" y="183.8" font-family="'Liberation Serif', 'Times New Roman', serif" font-size="7.6" font-weight="normal" fill="#666">&#215;10<tspan font-size="5.5" dy="-3">5</tspan></text>
<line x1="319.6" y1="196.8" x2="319.6" y2="307.6" stroke="#ff1010" stroke-width="1.4" stroke-dasharray="10.5,4.2,6.4,3.55,6.4,3.55,6.4,3.55,6.4,3.55,6.4,3.55,6.4,3.55,6.4,3.55,6.4,3.55,6.4,3.55,6.4,3.55,6.4,3.55,6.4,3.55"/>
<path d="M316.4,201.4 L319.6,196.4 L322.8,201.4" fill="none" stroke="#ff1010" stroke-width="1.3"/>
<rect x="300.3" y="182" width="9" height="17" fill="#c01818" opacity="0.55" filter="url(#bl05)"/>
<path d="M299.2,176 L299.6,190 L299.8,215" fill="none" stroke="url(#fldO)" stroke-width="1.2"/>
<path d="M310.6,176 L310.2,190 L310.0,215" fill="none" stroke="url(#fldO)" stroke-width="1.2"/>
<line x1="301.5" y1="179" x2="301.5" y2="216" stroke="url(#fldI)" stroke-width="1.0"/>
<line x1="303.5" y1="179" x2="303.5" y2="216" stroke="url(#fldI)" stroke-width="1.0"/>
<line x1="305.3" y1="179" x2="305.3" y2="216" stroke="url(#fldI)" stroke-width="1.0"/>
<line x1="307.2" y1="179" x2="307.2" y2="216" stroke="url(#fldI)" stroke-width="1.0"/>
<line x1="309.0" y1="179" x2="309.0" y2="216" stroke="url(#fldI)" stroke-width="1.0"/>
<line x1="299.3" y1="292" x2="299.3" y2="315.5" stroke="#d8b030" stroke-width="0.8" opacity="0.8"/>
<path d="M299.3,298 Q299.3,288 297.3,280.5" fill="none" stroke="#f07020" stroke-width="2.6" stroke-linecap="round" opacity="0.7" filter="url(#bl05)"/>
<path d="M299.3,299 Q299.3,288 297.5,281.5" fill="none" stroke="#b01010" stroke-width="1.5" stroke-linecap="round"/>
<line x1="302.0" y1="292" x2="302.0" y2="315.5" stroke="#d04020" stroke-width="0.8" opacity="0.8"/>
<path d="M302.0,298 Q302.0,288 301.2,280.5" fill="none" stroke="#f07020" stroke-width="2.6" stroke-linecap="round" opacity="0.7" filter="url(#bl05)"/>
<path d="M302.0,299 Q302.0,288 301.28,281.5" fill="none" stroke="#b01010" stroke-width="1.5" stroke-linecap="round"/>
<line x1="304.8" y1="292" x2="304.8" y2="315.5" stroke="#70d0d8" stroke-width="0.8" opacity="0.8"/>
<path d="M304.8,298 Q304.8,288 305.1,280.5" fill="none" stroke="#f07020" stroke-width="2.6" stroke-linecap="round" opacity="0.7" filter="url(#bl05)"/>
<path d="M304.8,299 Q304.8,288 305.07,281.5" fill="none" stroke="#b01010" stroke-width="1.5" stroke-linecap="round"/>
<line x1="307.6" y1="292" x2="307.6" y2="315.5" stroke="#d04020" stroke-width="0.8" opacity="0.8"/>
<path d="M307.6,298 Q307.6,288 308.8,280.5" fill="none" stroke="#f07020" stroke-width="2.6" stroke-linecap="round" opacity="0.7" filter="url(#bl05)"/>
<path d="M307.6,299 Q307.6,288 308.68,281.5" fill="none" stroke="#b01010" stroke-width="1.5" stroke-linecap="round"/>
<line x1="310.6" y1="292" x2="310.6" y2="315.5" stroke="#d8b030" stroke-width="0.8" opacity="0.8"/>
<path d="M310.6,298 Q310.6,288 312.6,280.5" fill="none" stroke="#f07020" stroke-width="2.6" stroke-linecap="round" opacity="0.7" filter="url(#bl05)"/>
<path d="M310.6,299 Q310.6,288 312.40000000000003,281.5" fill="none" stroke="#b01010" stroke-width="1.5" stroke-linecap="round"/>
<path d="M293,287 L297,287 M293.5,290 L297,290 M294,293 L297,293 M294.5,296 L297,296" stroke="#a0b8e0" stroke-width="0.6" opacity="0.7"/>
<g clip-path="url(#clE1)">
<rect x="419.7" y="21.0" width="93.0" height="94.2" fill="#0a1cf0"/>
<ellipse cx="466.2" cy="68.1" rx="45.3" ry="47.9" fill="#0a36ff"/>
<ellipse cx="466.2" cy="68.1" rx="35.5" ry="39.5" fill="url(#e1in)" filter="url(#bl1)"/>
<rect x="459.2" y="21.0" width="14" height="94.2" fill="#00008c" filter="url(#bl2)"/>
<ellipse cx="466.2" cy="68.1" rx="45.3" ry="47.9" fill="none" stroke="url(#e1ro)" stroke-width="4.0" opacity="0.75" filter="url(#bl1)"/>
<ellipse cx="466.2" cy="68.1" rx="45.3" ry="47.9" fill="none" stroke="url(#e1ro)" stroke-width="1.9" filter="url(#bl05)"/>
<ellipse cx="466.2" cy="68.1" rx="35.3" ry="39.3" fill="none" stroke="url(#e1ri)" stroke-width="3.0" opacity="0.75" filter="url(#bl15)"/>
<ellipse cx="466.2" cy="68.1" rx="35.5" ry="39.5" fill="none" stroke="url(#e1ri)" stroke-width="1.0" opacity="0.7" filter="url(#bl07)"/>
<ellipse cx="466.2" cy="21.0" rx="9" ry="7" fill="#00089c" filter="url(#bl2)"/>
<ellipse cx="466.2" cy="115.2" rx="9" ry="7" fill="#00089c" filter="url(#bl2)"/>
<ellipse cx="425.7" cy="68.1" rx="6" ry="30" fill="#24b8f8" opacity="0.85" filter="url(#bl3)"/>
<ellipse cx="425.2" cy="68.1" rx="7" ry="15" fill="#40e8c0" filter="url(#bl2)"/>
<ellipse cx="424.7" cy="68.1" rx="5" ry="9" fill="#90f070" filter="url(#bl15)"/>
<path d="M419.7,62.6 Q424.2,63.2 430.7,60.800000000000004" fill="none" stroke="#ffb000" stroke-width="4.4" filter="url(#bl07)"/>
<path d="M419.7,62.6 Q424.2,63.2 430.2,61.0" fill="none" stroke="#e00000" stroke-width="2.3" filter="url(#bl05)"/>
<path d="M419.7,72.4 Q424.2,71.80000000000001 430.7,74.2" fill="none" stroke="#ffb000" stroke-width="4.4" filter="url(#bl07)"/>
<path d="M419.7,72.4 Q424.2,71.80000000000001 430.2,74.0" fill="none" stroke="#e00000" stroke-width="2.3" filter="url(#bl05)"/>
<ellipse cx="506.70000000000005" cy="68.1" rx="6" ry="30" fill="#24b8f8" opacity="0.85" filter="url(#bl3)"/>
<ellipse cx="507.20000000000005" cy="68.1" rx="7" ry="15" fill="#40e8c0" filter="url(#bl2)"/>
<ellipse cx="507.70000000000005" cy="68.1" rx="5" ry="9" fill="#90f070" filter="url(#bl15)"/>
<path d="M512.7,62.6 Q508.20000000000005,63.2 501.70000000000005,60.800000000000004" fill="none" stroke="#ffb000" stroke-width="4.4" filter="url(#bl07)"/>
<path d="M512.7,62.6 Q508.20000000000005,63.2 502.20000000000005,61.0" fill="none" stroke="#e00000" stroke-width="2.3" filter="url(#bl05)"/>
<path d="M512.7,72.4 Q508.20000000000005,71.80000000000001 501.70000000000005,74.2" fill="none" stroke="#ffb000" stroke-width="4.4" filter="url(#bl07)"/>
<path d="M512.7,72.4 Q508.20000000000005,71.80000000000001 502.20000000000005,74.0" fill="none" stroke="#e00000" stroke-width="2.3" filter="url(#bl05)"/>
</g>
<g clip-path="url(#clE2)">
<rect x="419.7" y="130.8" width="92.9" height="94.0" fill="#0a12b8"/>
<ellipse cx="434.7" cy="177.8" rx="14" ry="27" fill="#060ca8" filter="url(#bl4)"/>
<ellipse cx="497.6" cy="177.8" rx="14" ry="27" fill="#060ca8" filter="url(#bl4)"/>
<rect x="457.15" y="155" width="18" height="46" fill="#0a18c6" filter="url(#bl3)"/>
<ellipse cx="466.15" cy="146.8" rx="11" ry="13" fill="#1460ff" filter="url(#bl2)"/>
<path d="M458.15,138.8 L457.65,153.3 Q466.15,156.3 474.65,153.3 L474.15,138.8 Q471.65,138.3 470.65,142.3 Q466.15,145.3 461.65,142.3 Q460.65,138.3 458.15,138.8 Z" fill="#30e0ff" filter="url(#bl15)"/>
<path d="M460.15,143.8 L460.15,151.3 L472.15,151.3 L472.15,143.8 Q466.15,146.3 460.15,143.8 Z" fill="#c8f038" filter="url(#bl1)"/>
<path d="M460.95,147.8 L460.95,151.8 L471.34999999999997,151.8 L471.34999999999997,147.8 Q466.15,149.3 460.95,147.8 Z" fill="#ff9800" filter="url(#bl07)"/>
<path d="M461.25,146.8 L461.25,151.8 L471.04999999999995,151.8 L471.04999999999995,146.8" fill="none" stroke="#e81000" stroke-width="1.8" filter="url(#bl07)"/>
<rect x="461.25" y="150.60000000000002" width="9.8" height="2.3" fill="#a00000" filter="url(#bl05)"/>
<ellipse cx="466.15" cy="207.2" rx="11" ry="13" fill="#1460ff" filter="url(#bl2)"/>
<path d="M458.15,215.2 L457.65,200.7 Q466.15,197.7 474.65,200.7 L474.15,215.2 Q471.65,215.7 470.65,211.7 Q466.15,208.7 461.65,211.7 Q460.65,215.7 458.15,215.2 Z" fill="#30e0ff" filter="url(#bl15)"/>
<path d="M460.15,210.2 L460.15,202.7 L472.15,202.7 L472.15,210.2 Q466.15,207.7 460.15,210.2 Z" fill="#c8f038" filter="url(#bl1)"/>
<path d="M460.95,206.2 L460.95,202.2 L471.34999999999997,202.2 L471.34999999999997,206.2 Q466.15,204.7 460.95,206.2 Z" fill="#ff9800" filter="url(#bl07)"/>
<path d="M461.25,207.2 L461.25,202.2 L471.04999999999995,202.2 L471.04999999999995,207.2" fill="none" stroke="#e81000" stroke-width="1.8" filter="url(#bl07)"/>
<rect x="461.25" y="201.0" width="9.8" height="2.3" fill="#a00000" filter="url(#bl05)"/>
</g>
<g clip-path="url(#clE3)">
<rect x="419.7" y="237.2" width="92.8" height="94.1" fill="url(#e3bg)"/>
<ellipse cx="439.7" cy="283.2" rx="6" ry="2" fill="#0410a8" filter="url(#bl1)"/>
<ellipse cx="489.6" cy="283.2" rx="6" ry="2" fill="#0410a8" filter="url(#bl1)"/>
<path d="M436.41,274.73 L436.47,272.53 L436.71,270.29 L437.42,268.20 L438.38,266.21 L439.49,264.28 L440.74,262.43 L442.31,260.85 L443.98,259.38 L445.75,258.04 L447.62,256.87 L449.65,255.99 L451.72,255.26 L453.81,254.68 L455.39,254.35 L456.70,258.98 L458.20,263.64 L456.77,263.96 L455.35,264.39 L453.95,264.92 L452.58,265.56 L451.24,266.30 L449.64,266.84 L448.06,267.52 L446.50,268.35 L444.90,269.27 L443.12,270.23 L441.39,271.36 L439.72,272.69 L438.13,274.19 L436.47,276.09 Z" fill="#1a70ff" filter="url(#bl2)"/>
<path d="M436.41,274.73 L436.47,272.53 L436.71,270.29 L437.42,268.20 L438.38,266.21 L439.49,264.28 L440.74,262.43 L442.31,260.85 L443.98,259.38 L445.75,258.04 L447.62,256.87 L449.65,255.99 L451.72,255.26 L453.81,254.68 L455.39,254.35 L456.70,258.98 L458.20,263.64 L456.77,263.96 L455.35,264.39 L453.95,264.92 L452.58,265.56 L451.24,266.30 L449.64,266.84 L448.06,267.52 L446.50,268.35 L444.90,269.27 L443.12,270.23 L441.39,271.36 L439.72,272.69 L438.13,274.19 L436.47,276.09 Z" fill="url(#cr1)" filter="url(#bl07)"/>
<ellipse cx="453.25" cy="259.50" rx="4" ry="4" fill="#f0d820" filter="url(#bl1)"/>
<path d="M447.73,258.89 L451.63,256.27 L454.88,255.27 L456.40,259.08 L457.33,262.90 L455.49,263.84" fill="none" stroke="#ff7000" stroke-width="3.0" stroke-linejoin="round" filter="url(#bl07)"/>
<path d="M447.73,258.89 L451.63,256.27 L454.88,255.27 L456.40,259.08 L457.33,262.90 L455.49,263.84" fill="none" stroke="#d80000" stroke-width="1.4" stroke-linejoin="round" filter="url(#bl05)"/>
<path d="M437.53,272.91 Q442.72,267.23 448.86,263.47" fill="none" stroke="#30b0ff" stroke-width="1.2" opacity="0.6" filter="url(#bl1)"/>
<path d="M494.09,274.73 L494.03,272.53 L493.79,270.29 L493.08,268.20 L492.12,266.21 L491.01,264.28 L489.76,262.43 L488.19,260.85 L486.52,259.38 L484.75,258.04 L482.88,256.87 L480.85,255.99 L478.78,255.26 L476.69,254.68 L475.11,254.35 L473.80,258.98 L472.30,263.64 L473.73,263.96 L475.15,264.39 L476.55,264.92 L477.92,265.56 L479.26,266.30 L480.86,266.84 L482.44,267.52 L484.00,268.35 L485.60,269.27 L487.38,270.23 L489.11,271.36 L490.78,272.69 L492.37,274.19 L494.03,276.09 Z" fill="#1a70ff" filter="url(#bl2)"/>
<path d="M494.09,274.73 L494.03,272.53 L493.79,270.29 L493.08,268.20 L492.12,266.21 L491.01,264.28 L489.76,262.43 L488.19,260.85 L486.52,259.38 L484.75,258.04 L482.88,256.87 L480.85,255.99 L478.78,255.26 L476.69,254.68 L475.11,254.35 L473.80,258.98 L472.30,263.64 L473.73,263.96 L475.15,264.39 L476.55,264.92 L477.92,265.56 L479.26,266.30 L480.86,266.84 L482.44,267.52 L484.00,268.35 L485.60,269.27 L487.38,270.23 L489.11,271.36 L490.78,272.69 L492.37,274.19 L494.03,276.09 Z" fill="url(#cr2)" filter="url(#bl07)"/>
<ellipse cx="477.25" cy="259.50" rx="4" ry="4" fill="#f0d820" filter="url(#bl1)"/>
<path d="M482.77,258.89 L478.87,256.27 L475.62,255.27 L474.10,259.08 L473.17,262.90 L475.01,263.84" fill="none" stroke="#ff7000" stroke-width="3.0" stroke-linejoin="round" filter="url(#bl07)"/>
<path d="M482.77,258.89 L478.87,256.27 L475.62,255.27 L474.10,259.08 L473.17,262.90 L475.01,263.84" fill="none" stroke="#d80000" stroke-width="1.4" stroke-linejoin="round" filter="url(#bl05)"/>
<path d="M492.97,272.91 Q487.78,267.23 481.64,263.47" fill="none" stroke="#30b0ff" stroke-width="1.2" opacity="0.6" filter="url(#bl1)"/>
<path d="M436.41,291.27 L436.47,293.47 L436.71,295.71 L437.42,297.80 L438.38,299.79 L439.49,301.72 L440.74,303.57 L442.31,305.15 L443.98,306.62 L445.75,307.96 L447.62,309.13 L449.65,310.01 L451.72,310.74 L453.81,311.32 L455.39,311.65 L456.70,307.02 L458.20,302.36 L456.77,302.04 L455.35,301.61 L453.95,301.08 L452.58,300.44 L451.24,299.70 L449.64,299.16 L448.06,298.48 L446.50,297.65 L444.90,296.73 L443.12,295.77 L441.39,294.64 L439.72,293.31 L438.13,291.81 L436.47,289.91 Z" fill="#1a70ff" filter="url(#bl2)"/>
<path d="M436.41,291.27 L436.47,293.47 L436.71,295.71 L437.42,297.80 L438.38,299.79 L439.49,301.72 L440.74,303.57 L442.31,305.15 L443.98,306.62 L445.75,307.96 L447.62,309.13 L449.65,310.01 L451.72,310.74 L453.81,311.32 L455.39,311.65 L456.70,307.02 L458.20,302.36 L456.77,302.04 L455.35,301.61 L453.95,301.08 L452.58,300.44 L451.24,299.70 L449.64,299.16 L448.06,298.48 L446.50,297.65 L444.90,296.73 L443.12,295.77 L441.39,294.64 L439.72,293.31 L438.13,291.81 L436.47,289.91 Z" fill="url(#cr3)" filter="url(#bl07)"/>
<ellipse cx="453.25" cy="306.50" rx="4" ry="4" fill="#f0d820" filter="url(#bl1)"/>
<path d="M447.73,307.11 L451.63,309.73 L454.88,310.73 L456.40,306.92 L457.33,303.10 L455.49,302.16" fill="none" stroke="#ff7000" stroke-width="3.0" stroke-linejoin="round" filter="url(#bl07)"/>
<path d="M447.73,307.11 L451.63,309.73 L454.88,310.73 L456.40,306.92 L457.33,303.10 L455.49,302.16" fill="none" stroke="#d80000" stroke-width="1.4" stroke-linejoin="round" filter="url(#bl05)"/>
<path d="M437.53,293.09 Q442.72,298.77 448.86,302.53" fill="none" stroke="#30b0ff" stroke-width="1.2" opacity="0.6" filter="url(#bl1)"/>
<path d="M494.09,291.27 L494.03,293.47 L493.79,295.71 L493.08,297.80 L492.12,299.79 L491.01,301.72 L489.76,303.57 L488.19,305.15 L486.52,306.62 L484.75,307.96 L482.88,309.13 L480.85,310.01 L478.78,310.74 L476.69,311.32 L475.11,311.65 L473.80,307.02 L472.30,302.36 L473.73,302.04 L475.15,301.61 L476.55,301.08 L477.92,300.44 L479.26,299.70 L480.86,299.16 L482.44,298.48 L484.00,297.65 L485.60,296.73 L487.38,295.77 L489.11,294.64 L490.78,293.31 L492.37,291.81 L494.03,289.91 Z" fill="#1a70ff" filter="url(#bl2)"/>
<path d="M494.09,291.27 L494.03,293.47 L493.79,295.71 L493.08,297.80 L492.12,299.79 L491.01,301.72 L489.76,303.57 L488.19,305.15 L486.52,306.62 L484.75,307.96 L482.88,309.13 L480.85,310.01 L478.78,310.74 L476.69,311.32 L475.11,311.65 L473.80,307.02 L472.30,302.36 L473.73,302.04 L475.15,301.61 L476.55,301.08 L477.92,300.44 L479.26,299.70 L480.86,299.16 L482.44,298.48 L484.00,297.65 L485.60,296.73 L487.38,295.77 L489.11,294.64 L490.78,293.31 L492.37,291.81 L494.03,289.91 Z" fill="url(#cr4)" filter="url(#bl07)"/>
<ellipse cx="477.25" cy="306.50" rx="4" ry="4" fill="#f0d820" filter="url(#bl1)"/>
<path d="M482.77,307.11 L478.87,309.73 L475.62,310.73 L474.10,306.92 L473.17,303.10 L475.01,302.16" fill="none" stroke="#ff7000" stroke-width="3.0" stroke-linejoin="round" filter="url(#bl07)"/>
<path d="M482.77,307.11 L478.87,309.73 L475.62,310.73 L474.10,306.92 L473.17,303.10 L475.01,302.16" fill="none" stroke="#d80000" stroke-width="1.4" stroke-linejoin="round" filter="url(#bl05)"/>
<path d="M492.97,293.09 Q487.78,298.77 481.64,302.53" fill="none" stroke="#30b0ff" stroke-width="1.2" opacity="0.6" filter="url(#bl1)"/>
</g>
<rect x="521.2" y="21.0" width="13.9" height="94.2" fill="url(#jetV)"/>
<text x="538.60" y="117.80" font-family="'Liberation Sans', Arial, sans-serif" font-size="7.3" font-weight="normal" fill="#1a1a1a" stroke="#1a1a1a" stroke-width="0.3" text-anchor="start" >0</text>
<text x="538.60" y="102.10" font-family="'Liberation Sans', Arial, sans-serif" font-size="7.3" font-weight="normal" fill="#1a1a1a" stroke="#1a1a1a" stroke-width="0.3" text-anchor="start" >2</text>
<text x="538.60" y="86.40" font-family="'Liberation Sans', Arial, sans-serif" font-size="7.3" font-weight="normal" fill="#1a1a1a" stroke="#1a1a1a" stroke-width="0.3" text-anchor="start" >4</text>
<text x="538.60" y="70.70" font-family="'Liberation Sans', Arial, sans-serif" font-size="7.3" font-weight="normal" fill="#1a1a1a" stroke="#1a1a1a" stroke-width="0.3" text-anchor="start" >6</text>
<text x="538.60" y="55.00" font-family="'Liberation Sans', Arial, sans-serif" font-size="7.3" font-weight="normal" fill="#1a1a1a" stroke="#1a1a1a" stroke-width="0.3" text-anchor="start" >8</text>
<text x="538.60" y="39.30" font-family="'Liberation Sans', Arial, sans-serif" font-size="7.3" font-weight="normal" fill="#1a1a1a" stroke="#1a1a1a" stroke-width="0.3" text-anchor="start" >10</text>
<text x="538.60" y="23.60" font-family="'Liberation Sans', Arial, sans-serif" font-size="7.3" font-weight="normal" fill="#1a1a1a" stroke="#1a1a1a" stroke-width="0.3" text-anchor="start" >12</text>
<rect x="521.0" y="131.0" width="13.1" height="92.8" fill="url(#jetV)"/>
<text x="538.60" y="213.60" font-family="'Liberation Sans', Arial, sans-serif" font-size="7.3" font-weight="normal" fill="#1a1a1a" stroke="#1a1a1a" stroke-width="0.3" text-anchor="start" >5</text>
<text x="538.60" y="200.27" font-family="'Liberation Sans', Arial, sans-serif" font-size="7.3" font-weight="normal" fill="#1a1a1a" stroke="#1a1a1a" stroke-width="0.3" text-anchor="start" >10</text>
<text x="538.60" y="186.93" font-family="'Liberation Sans', Arial, sans-serif" font-size="7.3" font-weight="normal" fill="#1a1a1a" stroke="#1a1a1a" stroke-width="0.3" text-anchor="start" >15</text>
<text x="538.60" y="173.60" font-family="'Liberation Sans', Arial, sans-serif" font-size="7.3" font-weight="normal" fill="#1a1a1a" stroke="#1a1a1a" stroke-width="0.3" text-anchor="start" >20</text>
<text x="538.60" y="160.27" font-family="'Liberation Sans', Arial, sans-serif" font-size="7.3" font-weight="normal" fill="#1a1a1a" stroke="#1a1a1a" stroke-width="0.3" text-anchor="start" >25</text>
<text x="538.60" y="146.93" font-family="'Liberation Sans', Arial, sans-serif" font-size="7.3" font-weight="normal" fill="#1a1a1a" stroke="#1a1a1a" stroke-width="0.3" text-anchor="start" >30</text>
<text x="538.60" y="133.60" font-family="'Liberation Sans', Arial, sans-serif" font-size="7.3" font-weight="normal" fill="#1a1a1a" stroke="#1a1a1a" stroke-width="0.3" text-anchor="start" >35</text>
<rect x="520.8" y="237.5" width="13.9" height="93.8" fill="url(#jetV)"/>
<text x="538.60" y="318.85" font-family="'Liberation Sans', Arial, sans-serif" font-size="7.3" font-weight="normal" fill="#1a1a1a" stroke="#1a1a1a" stroke-width="0.3" text-anchor="start" >2</text>
<text x="538.60" y="303.41" font-family="'Liberation Sans', Arial, sans-serif" font-size="7.3" font-weight="normal" fill="#1a1a1a" stroke="#1a1a1a" stroke-width="0.3" text-anchor="start" >4</text>
<text x="538.60" y="287.97" font-family="'Liberation Sans', Arial, sans-serif" font-size="7.3" font-weight="normal" fill="#1a1a1a" stroke="#1a1a1a" stroke-width="0.3" text-anchor="start" >6</text>
<text x="538.60" y="272.52" font-family="'Liberation Sans', Arial, sans-serif" font-size="7.3" font-weight="normal" fill="#1a1a1a" stroke="#1a1a1a" stroke-width="0.3" text-anchor="start" >8</text>
<text x="538.60" y="257.08" font-family="'Liberation Sans', Arial, sans-serif" font-size="7.3" font-weight="normal" fill="#1a1a1a" stroke="#1a1a1a" stroke-width="0.3" text-anchor="start" >10</text>
<text x="538.60" y="241.64" font-family="'Liberation Sans', Arial, sans-serif" font-size="7.3" font-weight="normal" fill="#1a1a1a" stroke="#1a1a1a" stroke-width="0.3" text-anchor="start" >12</text>
<text x="422.0" y="33.2" font-family="'Liberation Serif', 'Times New Roman', serif" font-size="12" font-weight="bold" fill="#fff" stroke="#fff" stroke-width="0.25">B<tspan font-size="7.5" dx="0.3" dy="2.2">1</tspan></text>
<text x="422.8" y="142.2" font-family="'Liberation Serif', 'Times New Roman', serif" font-size="12" font-weight="bold" fill="#fff" stroke="#fff" stroke-width="0.25">B<tspan font-size="7.5" dx="0.3" dy="2.2">2</tspan></text>
<text x="423.0" y="249.2" font-family="'Liberation Serif', 'Times New Roman', serif" font-size="12" font-weight="bold" fill="#fff" stroke="#fff" stroke-width="0.25">B<tspan font-size="7.5" dx="0.3" dy="2.2">3</tspan></text>
</svg>
</body></html>
